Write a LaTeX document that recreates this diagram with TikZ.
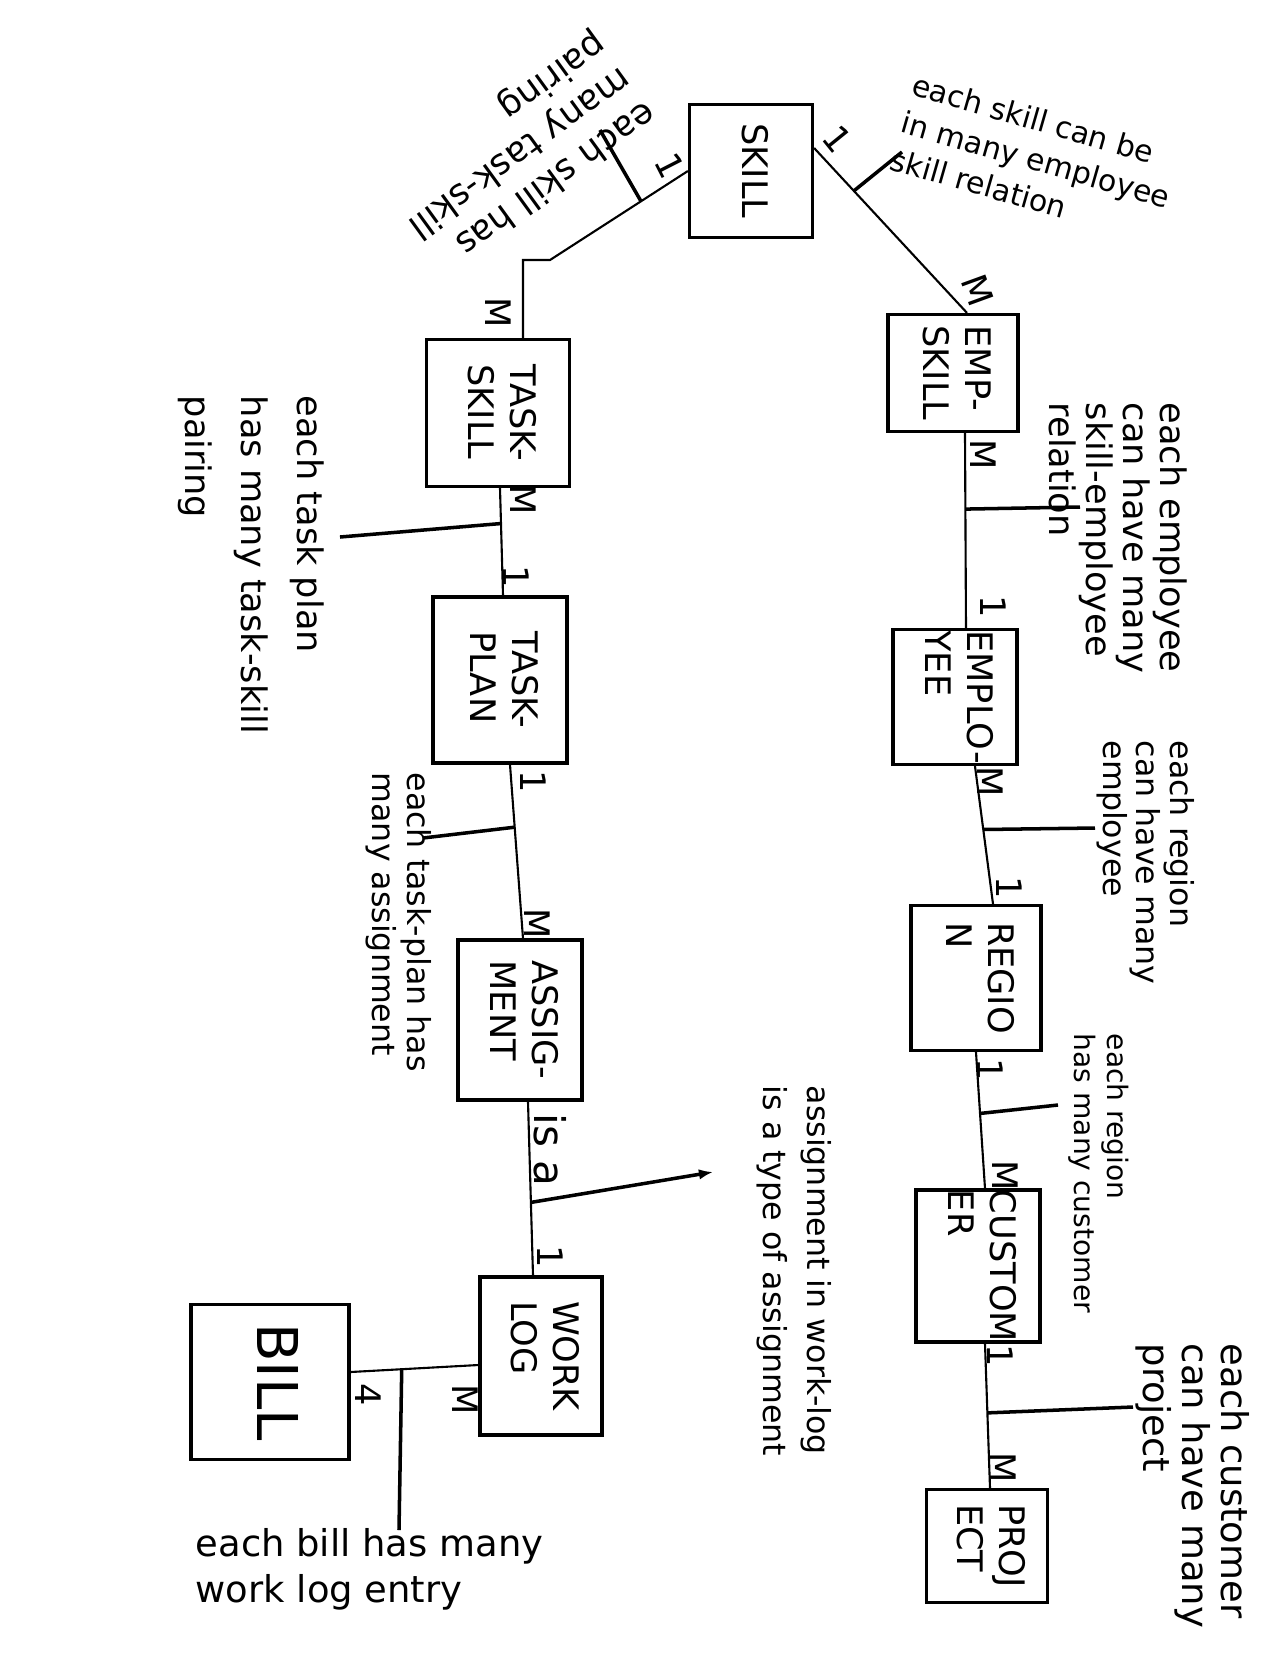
\documentclass[tikz,border=0pt]{standalone}
\usepackage{fontspec}
\setmainfont{DejaVu Sans}
\usetikzlibrary{arrows.meta,calc}
\newcommand{\vtext}[1]{\rotatebox{-90}{\begin{tabular}{@{}l@{}}#1\end{tabular}}}
\tikzset{
    entity/.style={draw, line width=0.9pt, inner sep=0pt,
                   font=\fontsize{10}{12}\selectfont},
    link/.style={line width=0.6pt},
    pointer/.style={line width=1pt},
    card/.style={inner sep=0pt, font=\fontsize{10}{12}\selectfont},
    vcard/.style={card, rotate=-90},
    note/.style={anchor=north west, align=left, inner sep=0pt},
    vnote/.style={note, rotate=-90},
}
\begin{document}
\begin{tikzpicture}[x=0.01cm, y=-0.01cm]
\useasboundingbox (0,0) rectangle (1280,1656);

% entities
\node[entity, minimum width=1.23cm, minimum height=1.33cm] (skill) at (751,171) {\vtext{SKILL}};
\node[entity, minimum width=1.30cm, minimum height=1.17cm] (empskill) at (953,373) {\vtext{EMP-\\SKILL}};
\node[entity, minimum width=1.24cm, minimum height=1.35cm] (employee) at (955,697) {\vtext{EMPLO-\\YEE}};
\node[entity, minimum width=1.30cm, minimum height=1.45cm] (region) at (976,978) {\vtext{REGIO\\N}};
\node[entity, minimum width=1.24cm, minimum height=1.41cm] (customer) at (978,1266) {\vtext{CUSTOM\\ER}};
\node[entity, minimum width=1.21cm, minimum height=1.13cm] (project) at (987,1546) {\vtext{PROJ\\ECT}};
\node[entity, minimum width=1.43cm, minimum height=1.47cm] (taskskill) at (498,413) {\vtext{TASK-\\SKILL}};
\node[entity, minimum width=1.34cm, minimum height=1.66cm] (taskplan) at (500,680) {\vtext{TASK-\\PLAN}};
\node[entity, minimum width=1.24cm, minimum height=1.60cm] (assignment) at (520,1020) {\vtext{ASSIG-\\MENT}};
\node[entity, minimum width=1.22cm, minimum height=1.58cm] (worklog) at (541,1356) {\vtext{WORK\\LOG}};
\node[entity, minimum width=1.58cm, minimum height=1.55cm,
      font=\fontsize{16}{18}\selectfont] (bill) at (270,1382) {\vtext{BILL}};

% connectors
\coordinate (skbend) at (550,260);
\draw[link] (skill.west) -- coordinate[pos=.34] (p1) (skbend) -| ($(taskskill.north)+(25,0)$);
\draw[link] ($(skill.east)+(0,-23)$) -- coordinate[pos=.26] (p2) ($(empskill.north)+(14,0)$);
\draw[link] ($(empskill.south)+(12,0)$) -- coordinate[pos=.39] (p3) ($(employee.north)+(11,0)$);
\draw[link] ($(employee.south)+(20,0)$) -- coordinate[pos=.46] (p4) ($(region.north)+(17,0)$);
\draw[link] (region.south) -- coordinate[pos=.45] (p5) ($(customer.north)+(7,0)$);
\draw[link] ($(customer.south)+(7,0)$) -- coordinate[pos=.48] (p6) ($(project.north)+(3,0)$);
\draw[link] ($(taskskill.south)+(2,0)$) -- coordinate[pos=.33] (p7) ($(taskplan.north)+(3,0)$);
\draw[link] ($(taskplan.south)+(10,0)$) -- coordinate[pos=.36] (p8) ($(assignment.north)+(3,0)$);
\draw[link] ($(assignment.south)+(8,0)$) -- coordinate[pos=.58] (p9) ($(worklog.north)+(-8,0)$);
\draw[link] ($(bill.east)+(0,-10)$) -- coordinate[pos=.40] (p10) ($(worklog.west)+(0,9)$);

% cardinalities
\node[card, rotate=-63] (skill-one-l) at (670,166) {1};
\node[vcard] (taskskill-m-top) at (498,313) {M};
\node[card, rotate=-51] (skill-one-r) at (838,139) {1};
\node[card, rotate=-70] (empskill-m-top) at (978,290) {M};
\node[vcard] (empskill-m) at (983,455) {M};
\node[vcard] (employee-one) at (993,607) {1};
\node[vcard] (employee-m) at (990,782) {M};
\node[vcard] (region-one-top) at (1009,888) {1};
\node[vcard] (region-one) at (990,1070) {1};
\node[vcard] (customer-m) at (1005,1176) {M};
\node[vcard] (customer-one) at (1000,1356) {1};
\node[vcard] (project-m) at (1003,1468) {M};
\node[vcard] (taskskill-m) at (523,500) {M};
\node[vcard] (taskplan-one-top) at (516,577) {1};
\node[vcard] (taskplan-one) at (533,782) {1};
\node[vcard] (assignment-m) at (537,924) {M};
\node[vcard, font=\fontsize{12}{14}\selectfont] (isa) at (550,1150) {is a};
\node[vcard] (worklog-one) at (550,1257) {1};
\node[vcard] (bill-four) at (368,1395) {4};
\node[vcard] (worklog-m) at (465,1400) {M};

% notes
\coordinate (n1) at (600,130);
\coordinate (n2) at (902,152);
\coordinate (n3) at (1080,507);
\coordinate (n4) at (1095,828);
\coordinate (n5) at (1058,1105);
\coordinate (n6) at (1133,1407);
\coordinate (n7) at (340,537);
\coordinate (n8) at (423,838);
\coordinate (n9) at (713,1172);
\coordinate (n10) at (399,1530);
\draw[pointer] (p1) -- (n1);
\draw[pointer] (p2) -- (n2);
\draw[pointer] (p3) -- (n3);
\draw[pointer] (p4) -- (n4);
\draw[pointer] (p5) -- (n5);
\draw[pointer] (p6) -- (n6);
\draw[pointer] (p7) -- (n7);
\draw[pointer] (p8) -- (n8);
\draw[pointer, -{Latex[length=4pt]}] (p9) -- (n9);
\draw[pointer] (p10) -- (n10);

\node[note, rotate=216, font=\fontsize{10}{12}\selectfont] (skilltask-note) at (662,122)
    {each skill has\\many task-skill\\pairing};
\node[note, rotate=-16, font=\fontsize{8.5}{11}\selectfont] (skillemp-note) at (916,72)
    {each skill can be\\in many employee\\skill relation};
\node[vnote, font=\fontsize{10}{10.5}\selectfont] (empskill-note) at (1188,402)
    {each employee\\can have many\\skill-employee\\relation};
\node[vnote, font=\fontsize{9}{9.5}\selectfont] (regemp-note) at (1195,740)
    {each region\\can have many\\employee};
\node[vnote, font=\fontsize{8}{9.5}\selectfont] (regcust-note) at (1130,1033)
    {each region\\has many customer};
\node[vnote, font=\fontsize{10.5}{11}\selectfont] (custproj-note) at (1250,1343)
    {each customer\\can have many\\project};
\node[vnote, font=\fontsize{10}{16}\selectfont] (planskill-note) at (325,395)
    {each task plan\\has many task-skill\\pairing};
\node[vnote, font=\fontsize{9}{10}\selectfont] (planassign-note) at (432,772)
    {each task-plan has\\many assignment};
\node[vnote, font=\fontsize{9}{12.5}\selectfont] (worklog-note) at (832,1085)
    {assignment in work-log\\is a type of assignment};
\node[note, font=\fontsize{10.5}{13}\selectfont] (bill-note) at (195,1528)
    {each bill has many\\work log entry};

\end{tikzpicture}
\end{document}
